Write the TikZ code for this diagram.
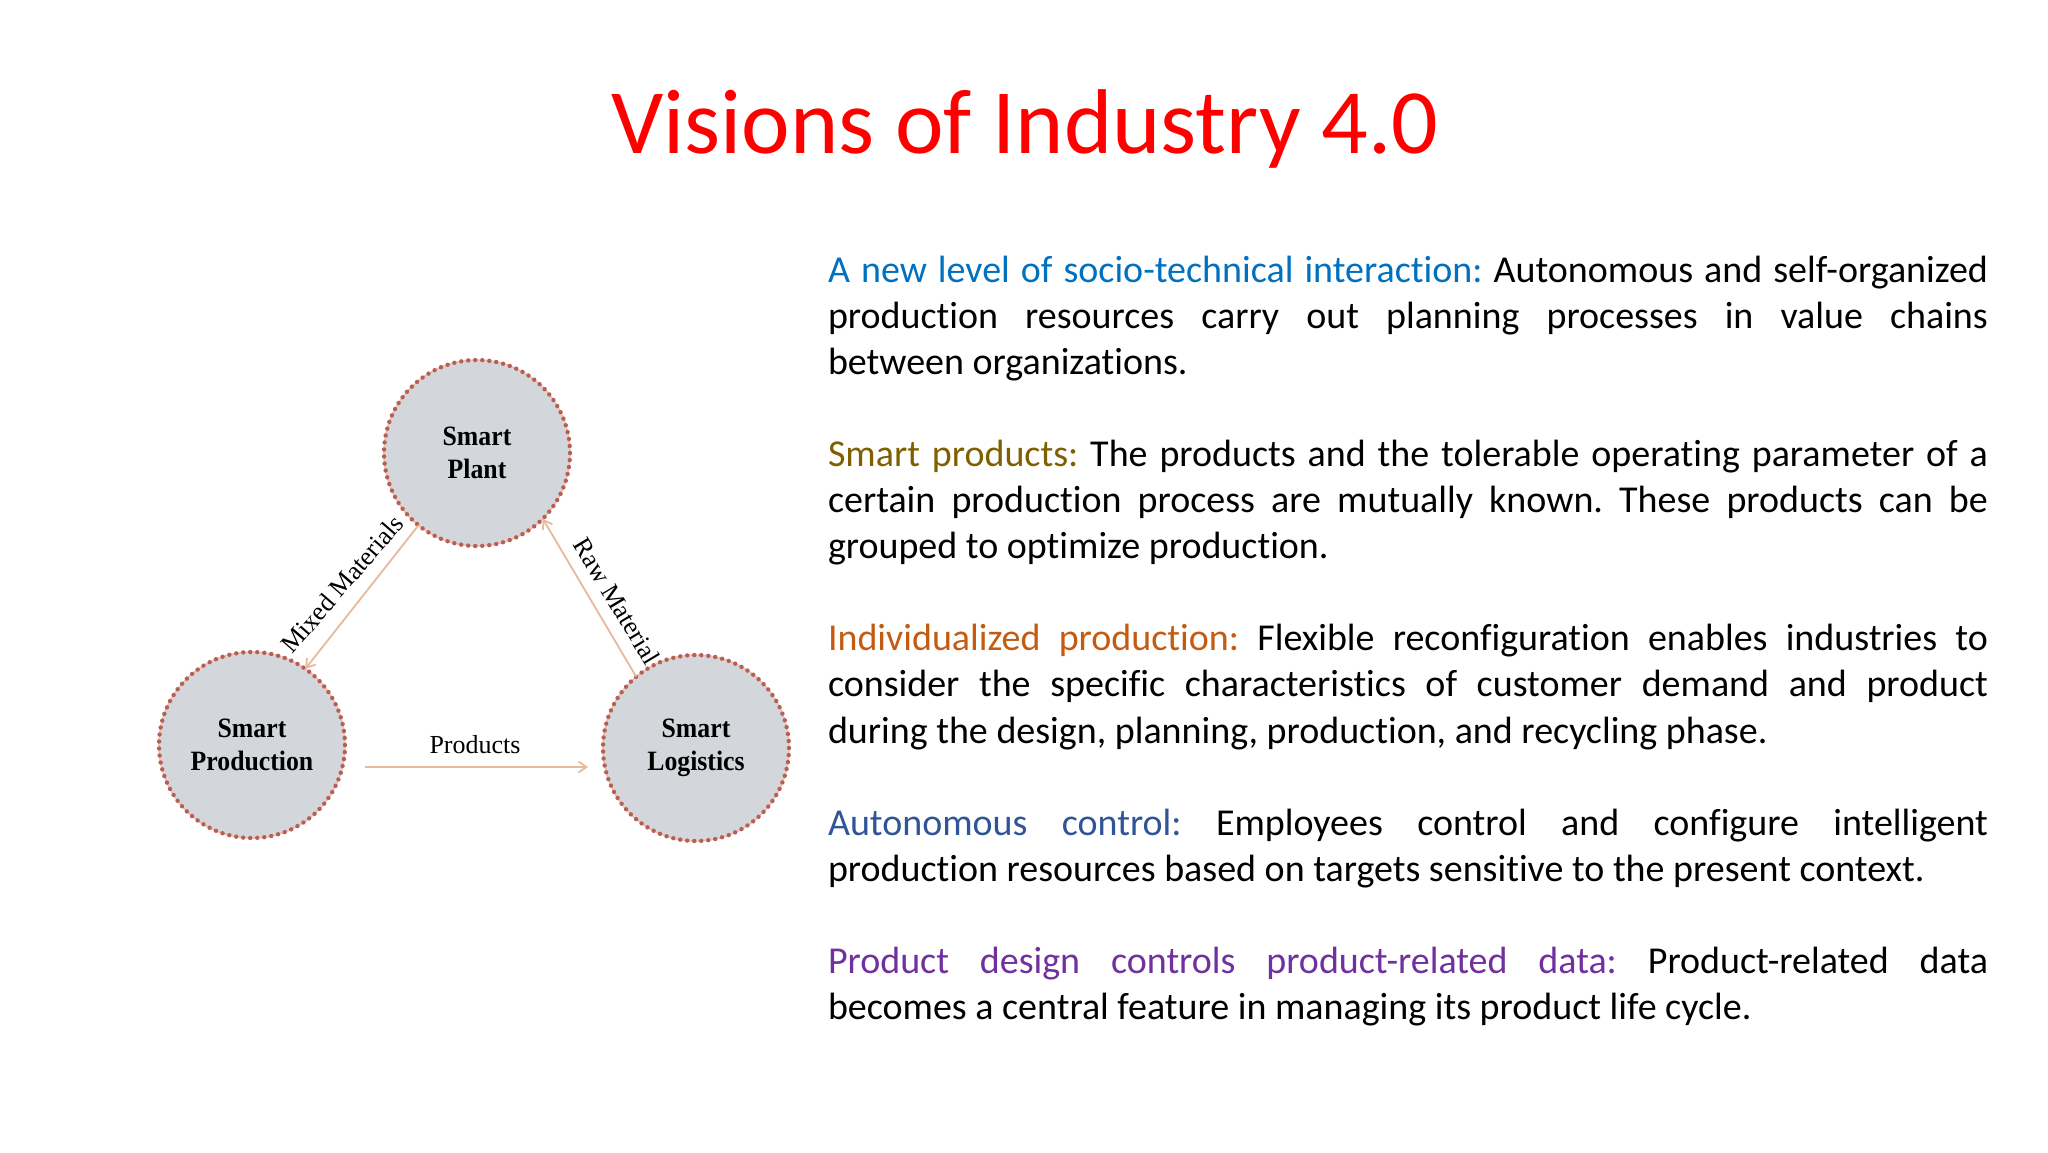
\documentclass[tikz,border=0pt]{standalone}
\usepackage{fontspec}
\setmainfont{Carlito}[Ligatures=NoCommon]
\newfontfamily\diagfont{Liberation Serif}
\newfontfamily\diagboldfont[FakeStretch=0.92]{Liberation Serif}
\usetikzlibrary{arrows.meta}
\definecolor{titlered}{RGB}{255,0,0}
\definecolor{cblue}{RGB}{0,112,192}
\definecolor{colive}{RGB}{127,96,0}
\definecolor{corange}{RGB}{197,90,17}
\definecolor{cnavy}{RGB}{47,85,151}
\definecolor{cpurple}{RGB}{112,48,160}
\definecolor{circfill}{RGB}{211,214,219}
\definecolor{ringline}{RGB}{242,192,165}
\definecolor{ringdot}{RGB}{180,95,88}
\definecolor{arrowc}{RGB}{232,185,155}
\tikzset{
  circ/.style={circle, minimum size=186pt, inner sep=0pt, outer sep=0pt,
    fill=circfill, draw=ringline, line width=1.6pt,
    postaction={draw=ringdot, line width=4.4pt, dash pattern=on 0pt off 7.04pt, line cap=round},
    font=\diagboldfont\bfseries\fontsize{28}{33}\selectfont, align=center, text=black},
  lbl/.style={inner sep=0pt, font=\diagfont\fontsize{26}{30}\selectfont, text=black},
  conn/.style={draw=arrowc, line width=1.8pt, -{Straight Barb[length=8pt,width=11pt]}},
  para/.style={anchor=base west, inner sep=0pt, outer sep=0pt, font=\fontsize{38}{46.1}\selectfont},
}
\newcommand{\paratext}[1]{\vtop{\hsize=1160pt\parindent=0pt\tolerance=10000\frenchspacing\parfillskip=0pt plus 1fil\leavevmode #1}}
\begin{document}
\begin{tikzpicture}[x=1pt,y=-1pt]
\fill[white] (0,0) rectangle (2048,1152);
\useasboundingbox (0,0) rectangle (2048,1152);

\node (title) [anchor=base, inner sep=0pt, font=\fontsize{92}{110}\selectfont, text=titlered] at (1025,153) {Visions of Industry 4.0};

% diagram
\node (plant) [circ] at (477,453) {Smart\\Plant};
\node (prod) [circ] at (252,745) {Smart\\Production};
\node (log) [circ] at (696,748) {Smart\\Logistics};

\draw[conn] (plant.231) -- (prod.55);
\draw[conn] (log.130) -- (plant.315);
\draw[conn] ([xshift=20pt,yshift=-22pt]prod.east) -- ([xshift=-15pt,yshift=-19pt]log.west);

\node (lmixed) [lbl, rotate=49] at (342,584) {Mixed Materials};
\node (lraw) [lbl, rotate=-59] at (617,601) {Raw Material};
\node (lprod) [lbl, anchor=base] at (475,753) {Products};

% text
\node (p1) [para] at (828,282) {\paratext{\textcolor{cblue}{A new level of socio-technical interaction:} Autonomous and self-organized\linebreak production resources carry out planning processes in value chains\linebreak between organizations.}};
\node (p2) [para] at (828,466.4) {\paratext{\textcolor{colive}{Smart products:} The products and the tolerable operating parameter of a\linebreak certain production process are mutually known. These products can be\linebreak grouped to optimize production.}};
\node (p3) [para] at (828,650.8) {\paratext{\textcolor{corange}{Individualized production:} Flexible reconfiguration enables industries to\linebreak consider the specific characteristics of customer demand and product\linebreak during the design, planning, production, and recycling phase.}};
\node (p4) [para] at (828,835.2) {\paratext{\textcolor{cnavy}{Autonomous control:} Employees control and configure intelligent\linebreak production resources based on targets sensitive to the present context.}};
\node (p5) [para] at (828,973.5) {\paratext{\textcolor{cpurple}{Product design controls product-related data:} Product-related data\linebreak becomes a central feature in managing its product life cycle.}};
\end{tikzpicture}
\end{document}
